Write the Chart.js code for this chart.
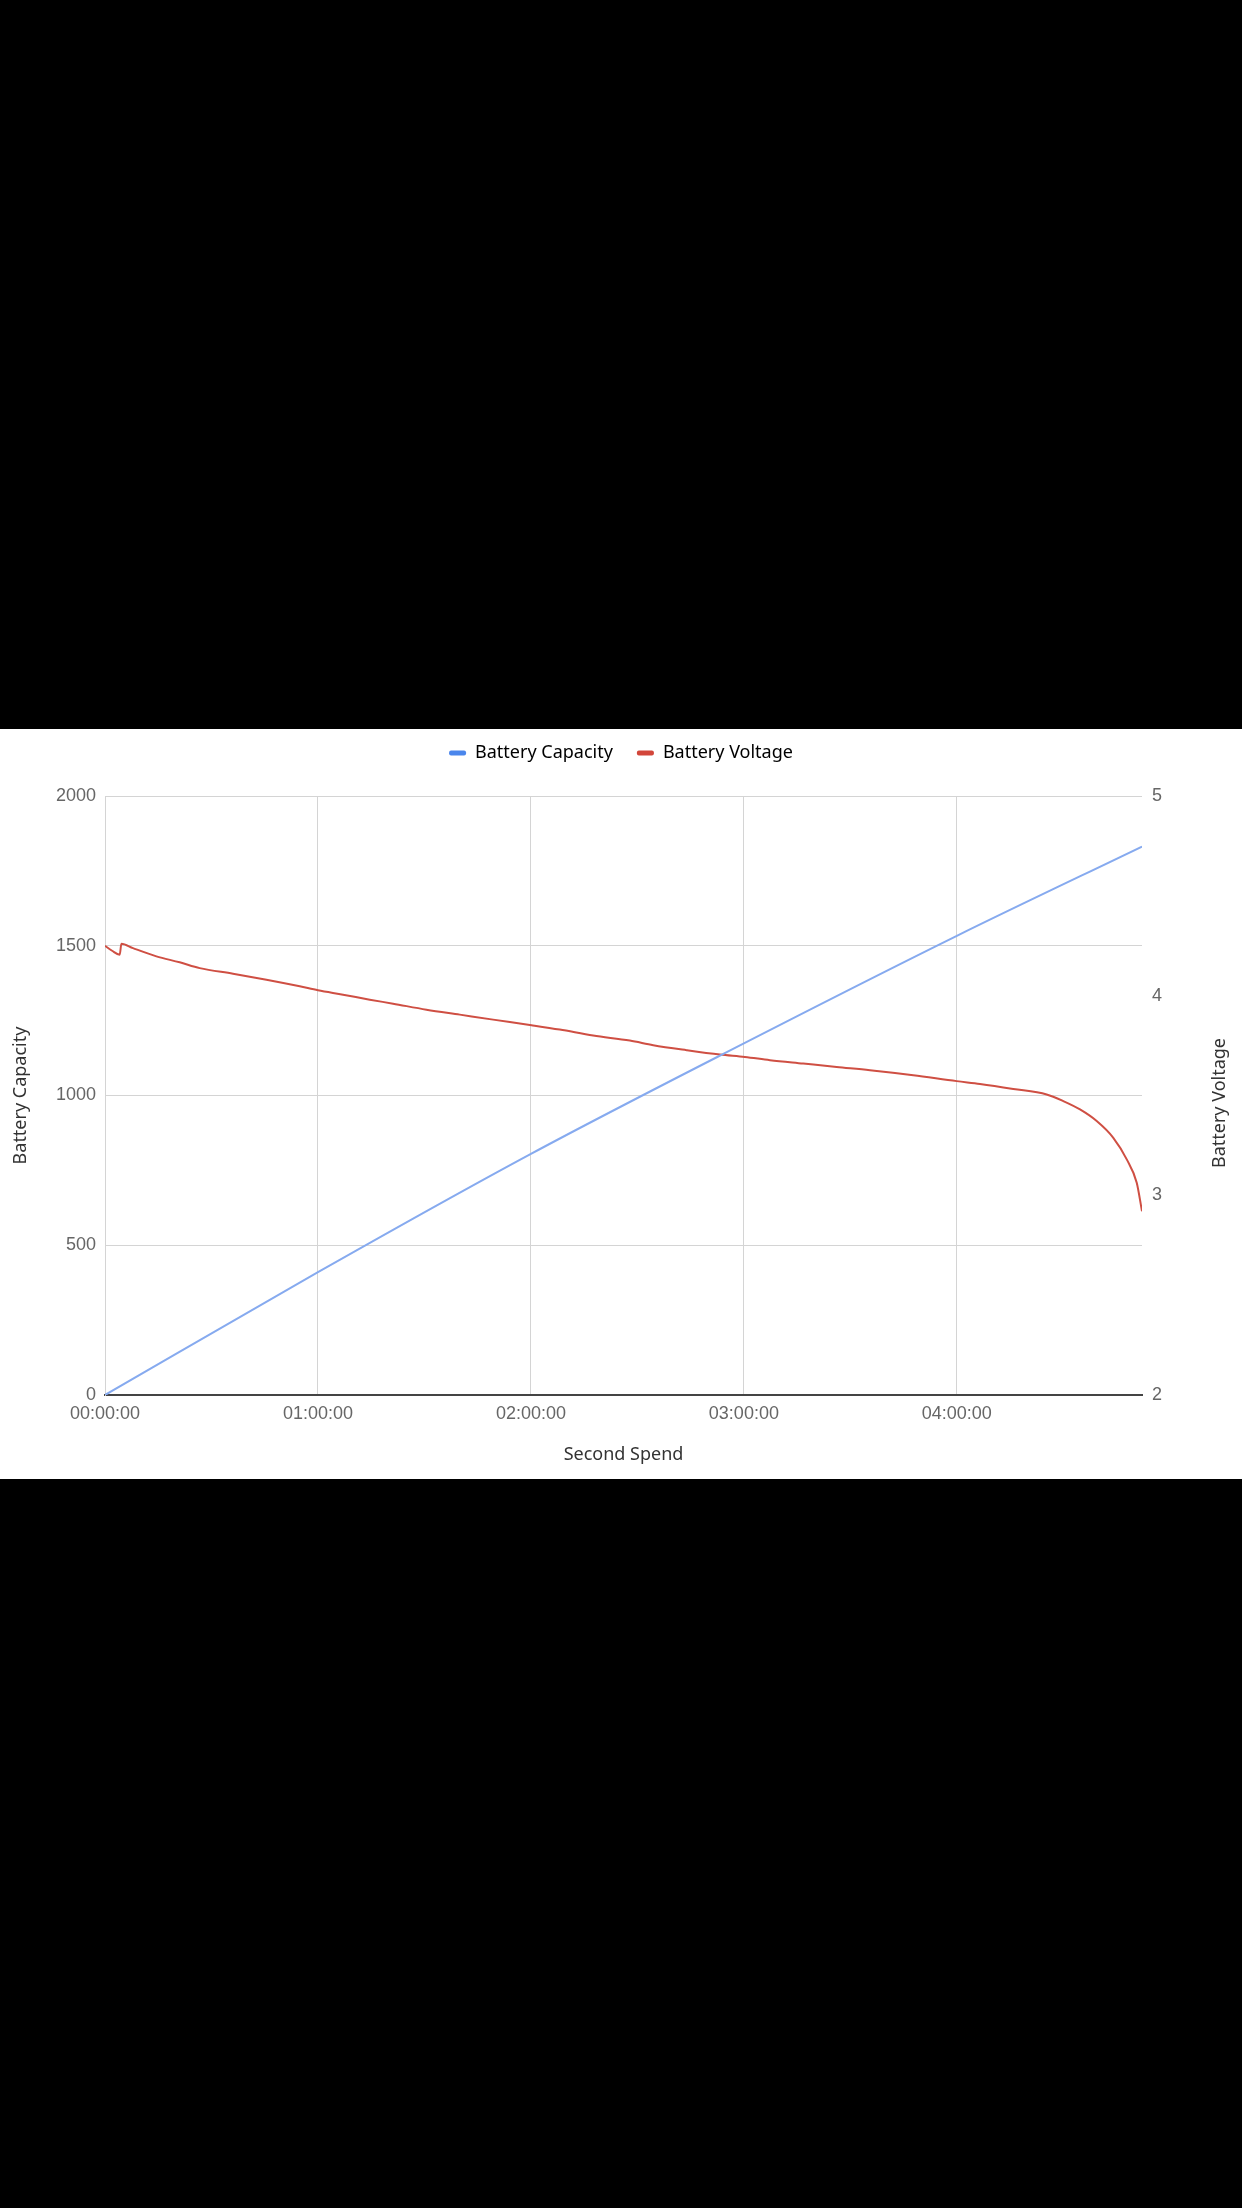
<!DOCTYPE html>
<html>
<head>
<meta charset="utf-8">
<script src="https://cdn.jsdelivr.net/npm/chart.js@4/dist/chart.umd.min.js"></script>
<style>
  html, body { margin: 0; padding: 0; background: #000; width: 1242px; height: 2208px; overflow: hidden; }
  #wrap { position: absolute; left: 0; top: 729px; width: 1242px; height: 750px; background: #fff; }
</style>
</head>
<body>
<div id="wrap"><canvas id="c"></canvas></div>
<script>
// ---- data (x in seconds elapsed) ----
const capacityTime = [0, 3600, 7200, 10800, 14400, 17530];
const capacityValues = [0, 410, 805, 1174, 1533, 1831];

const voltageTime = [0, 120, 249, 277, 473, 869, 1263, 1601, 2164, 2729, 3292, 3600, 4024, 4476, 4870, 5434, 5998, 6561, 7210, 7688, 8252, 8872, 9267, 9831, 10394, 10817, 11240, 11803, 12368, 12931, 13663, 14397, 14791, 15354, 15918, 16199, 16482, 16764, 17045, 17272, 17441, 17530];
const voltageValues = [4.25, 4.225, 4.205, 4.26, 4.238, 4.197, 4.167, 4.138, 4.11, 4.08, 4.047, 4.027, 4.005, 3.98, 3.96, 3.93, 3.905, 3.88, 3.852, 3.83, 3.80, 3.775, 3.752, 3.727, 3.705, 3.693, 3.677, 3.66, 3.643, 3.627, 3.602, 3.572, 3.558, 3.533, 3.505, 3.472, 3.43, 3.372, 3.288, 3.18, 3.063, 2.92];

const xTickValues = [0, 3600, 7200, 10800, 14400];
const xMax = 17530;
const seriesNames = ['Battery Capacity', 'Battery Voltage'];
const seriesColors = ['#4a86ec', '#d2463a'];
const lineColors = ['#86aaef', '#cf4f43'];
const leftTitle = 'Battery Capacity';
const rightTitle = 'Battery Voltage';
const bottomTitle = 'Second Spend';

function fmt(sec) {
  const h = Math.floor(sec / 3600), m = Math.floor((sec % 3600) / 60), s = Math.round(sec % 60);
  const p = n => String(n).padStart(2, '0');
  return p(h) + ':' + p(m) + ':' + p(s);
}

const titleFont = { family: "'Noto Sans', sans-serif", size: 18 };
const tickFont = { family: "'Liberation Sans', Arial, sans-serif", size: 18 };
const tickColor = '#666';
const gridColor = '#d4d4d4';

const layoutPlugin = {
  id: 'layoutFix',
  beforeLayout(chart) {
    const lg = chart.legend;
    if (lg && !lg._patched) {
      const orig = lg.fit.bind(lg);
      lg.fit = function () { orig(); this.height = 76; };
      lg._patched = true;
    }
  },
  afterDraw(chart) {
    const ctx = chart.ctx;
    ctx.save();
    ctx.translate(1220, 374);
    ctx.rotate(-Math.PI / 2);
    ctx.font = "18px 'Noto Sans', sans-serif";
    ctx.fillStyle = '#333';
    ctx.textAlign = 'center';
    ctx.textBaseline = 'middle';
    ctx.fillText(rightTitle, 0, 0);
    ctx.restore();
  }
};

new Chart(document.getElementById('c'), {
  type: 'line',
  data: {
    datasets: [
      {
        label: seriesNames[0],
        data: capacityTime.map((t, i) => ({ x: t, y: capacityValues[i] })),
        borderColor: lineColors[0],
        backgroundColor: seriesColors[0],
        borderWidth: 2,
        pointRadius: 0,
        cubicInterpolationMode: 'monotone',
        yAxisID: 'y'
      },
      {
        label: seriesNames[1],
        data: voltageTime.map((t, i) => ({ x: t, y: voltageValues[i] })),
        borderColor: lineColors[1],
        backgroundColor: seriesColors[1],
        borderWidth: 2,
        pointRadius: 0,
        cubicInterpolationMode: 'monotone',
        yAxisID: 'y1'
      }
    ]
  },
  options: {
    responsive: true,
    maintainAspectRatio: false,
    animation: false,
    layout: { padding: { top: -9, left: 0, right: 0, bottom: 0 } },
    plugins: {
      tooltip: { enabled: false },
      legend: {
        position: 'top',
        labels: {
          boxWidth: 17,
          boxHeight: 5,
          padding: 24,
          color: '#666',
          font: titleFont,
          useBorderRadius: true,
          borderRadius: 2,
          generateLabels: chart => chart.data.datasets.map((ds, i) => ({
            text: ds.label, fillStyle: seriesColors[i], strokeStyle: seriesColors[i],
            lineWidth: 0, hidden: false, datasetIndex: i, borderRadius: 2
          }))
        }
      }
    },
    scales: {
      x: {
        type: 'linear',
        min: 0,
        max: xMax,
        afterBuildTicks: s => { s.ticks = xTickValues.map(v => ({ value: v })); },
        afterFit: s => { s.height = 84; },
        ticks: { callback: v => fmt(v), font: tickFont, color: tickColor, padding: 8, maxRotation: 0, autoSkip: false },
        grid: { color: gridColor, drawTicks: false },
        border: { color: '#444', width: 2 },
        title: { display: true, text: bottomTitle, font: titleFont, color: '#333', padding: { top: 0, bottom: 13 } }
      },
      y: {
        position: 'left',
        min: 0,
        max: 2000,
        afterFit: s => { s.width = 105; },
        ticks: { stepSize: 500, callback: v => String(v), font: tickFont, color: tickColor, padding: 9 },
        grid: { color: ctx => ctx.tick.value === 0 ? '#444' : gridColor, drawTicks: false },
        border: { color: gridColor },
        title: { display: true, text: leftTitle, font: titleFont, color: '#333', padding: { top: 10, bottom: 0 } }
      },
      y1: {
        position: 'right',
        min: 2,
        max: 5,
        afterFit: s => { s.width = 100; },
        ticks: { stepSize: 1, callback: v => String(v), font: tickFont, color: tickColor, padding: 10 },
        grid: { drawOnChartArea: false, drawTicks: false },
        border: { display: false },
        title: { display: false }
      }
    }
  },
  plugins: [layoutPlugin]
});
</script>
</body>
</html>
